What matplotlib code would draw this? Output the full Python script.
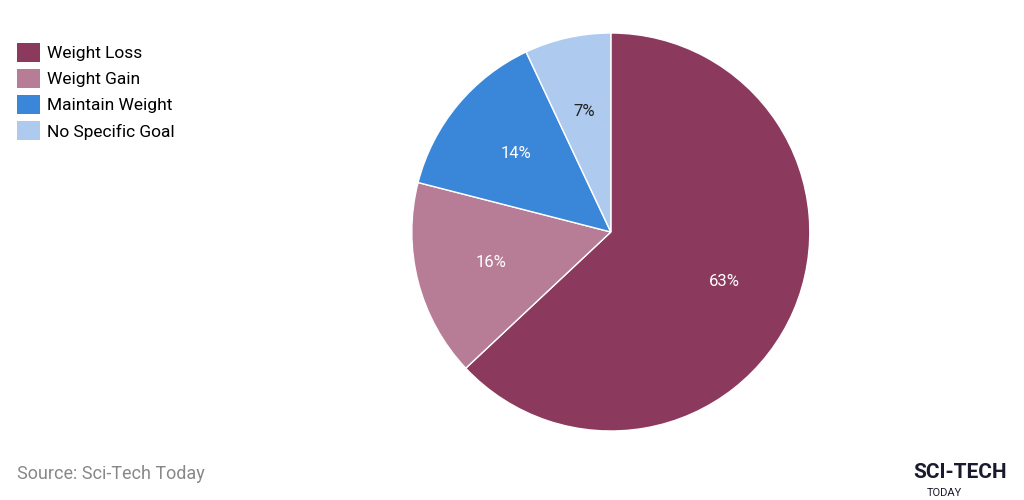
import matplotlib
matplotlib.use("Agg")
import matplotlib.pyplot as plt
from matplotlib.patches import Patch

plt.rcParams['font.family'] = ['Roboto', 'DejaVu Sans']

categories = ["Weight Loss", "Weight Gain", "Maintain Weight", "No Specific Goal"]
values = [63, 16, 14, 7]
colors = ["#8B3A5E", "#B87D96", "#3A86D9", "#AECBEF"]
text_colors = ["white", "white", "white", "#222222"]

fig = plt.figure(figsize=(10.24, 5.0), dpi=100)
ax = fig.add_axes([0.402, 0.138, 0.389, 0.796])
wedges, texts, autotexts = ax.pie(values, colors=colors, startangle=90, counterclock=False,
                                  autopct=lambda p: f"{p:.0f}%", pctdistance=0.62,
                                  wedgeprops=dict(edgecolor="white", linewidth=1))
for t, c in zip(autotexts, text_colors):
    t.set_color(c)
    t.set_fontsize(12)
ax.set_aspect("equal")
ax.set_xlim(-1, 1)
ax.set_ylim(-1, 1)

handles = [Patch(facecolor=c, edgecolor="none") for c in colors]
fig.legend(handles, categories, loc="upper left", bbox_to_anchor=(0.001, 0.946),
           frameon=False, fontsize=12.5, handlelength=1.35, handleheight=1.3,
           labelspacing=0.42, handletextpad=0.4)

fig.text(0.017, 0.042, "Source: Sci-Tech Today", color="#888888", fontsize=13)
fig.text(0.892, 0.045, "SCI-TECH", color="#1a1a2e", fontsize=15, fontweight="bold")
fig.text(0.905, 0.008, "TODAY", color="#1a1a2e", fontsize=8)

fig.savefig("out.png", dpi=100)
